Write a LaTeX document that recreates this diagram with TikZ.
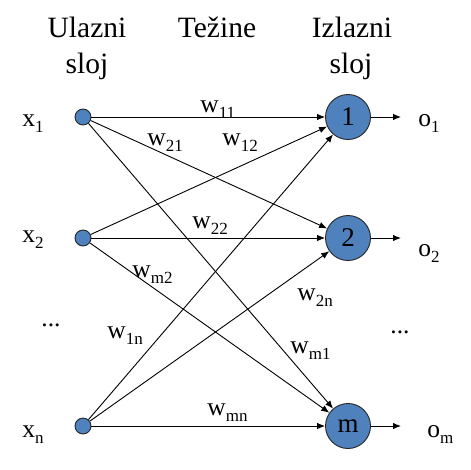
\documentclass[tikz,border=0pt]{standalone}
\usepackage{fontspec}
\setmainfont{Liberation Serif}
\newfontfamily\tnr{Liberation Serif}
\usepackage{tikz}
\usetikzlibrary{arrows.meta}
\newcommand{\subix}[1]{{\fontsize{17}{17}\selectfont\raisebox{-6pt}{#1}}}
\definecolor{nnblue}{HTML}{4F81BD}
\tikzset{
	in node/.style={circle,draw=black!85,fill=nnblue,inner sep=0pt,minimum size=16pt},
	out node/.style={circle,draw=black!85,fill=nnblue,inner sep=0pt,minimum size=45pt,font=\tnr\fontsize{27}{27}\selectfont},
	head/.style={anchor=base,inner sep=0pt,font=\tnr\fontsize{29.5}{29.5}\selectfont},
	lbl/.style={anchor=base west,inner sep=0pt,font=\tnr\fontsize{25.5}{25.5}\selectfont}
}

\begin{document}
\begin{tikzpicture}[->,>={Latex[length=8pt,width=6.5pt]},x=1pt,y=-1pt,line width=0.9pt]
	\useasboundingbox (0,0) rectangle (471,469);
	% naslovi
	\node [head] (h1) at (87,37) {Ulazni};
	\node [head] (h2) at (87,73) {sloj};
	\node [head] (h3) at (217,37) {Težine};
	\node [head] (h4) at (352,37) {Izlazni};
	\node [head] (h5) at (351,73) {sloj};
	% ulazni i izlazni slojevi
	\node [in node] (u1) at (83,117) {};
	\node [in node] (u2) at (83,238) {};
	\node [in node] (un) at (83,426) {};
	\node [out node] (1) at (348,117) {1};
	\node [out node] (2) at (348,238) {2};
	\node [out node] (m) at (348,426) {m};
	\node [lbl] (x1) at (22,126) {x\subix{1}};
	\node [lbl] (x2) at (22,242) {x\subix{2}};
	\node [lbl] (xn) at (22,437) {x\subix{n}};
	\node [lbl] (d1) at (41,326) {...};
	\node [lbl] (d2) at (390,333) {...};
	\node [lbl] (o1) at (418,126) {o\subix{1}};
	\node [lbl] (o2) at (418,256) {o\subix{2}};
	\node [lbl] (om) at (427,437) {o\subix{m}};
	\coordinate (e1) at (401,117);
	\coordinate (e2) at (401,238);
	\coordinate (em) at (401,426);
	% veze
	\draw (u1) -- (1);
	\draw (u1) -- (2);
	\draw (u1) -- (m);
	\draw (u2) -- (1);
	\draw (u2) -- (2);
	\draw (u2) -- (m);
	\draw (un) -- (1);
	\draw (un) -- (2);
	\draw (un) -- (m);
	\draw (1) -- (e1);
	\draw (2) -- (e2);
	\draw (m) -- (em);
	% tezine
	\node [lbl] (w11) at (200,112) {w\subix{11}};
	\node [lbl] (w21) at (147,145) {w\subix{21}};
	\node [lbl] (w12) at (222,145) {w\subix{12}};
	\node [lbl] (w22) at (192,228) {w\subix{22}};
	\node [lbl] (wm2) at (132,277) {w\subix{m2}};
	\node [lbl] (w2n) at (297,300) {w\subix{2n}};
	\node [lbl] (w1n) at (107,338) {w\subix{1n}};
	\node [lbl] (wm1) at (290,353) {w\subix{m1}};
	\node [lbl] (wmn) at (207,415) {w\subix{mn}};
\end{tikzpicture}
\end{document}
